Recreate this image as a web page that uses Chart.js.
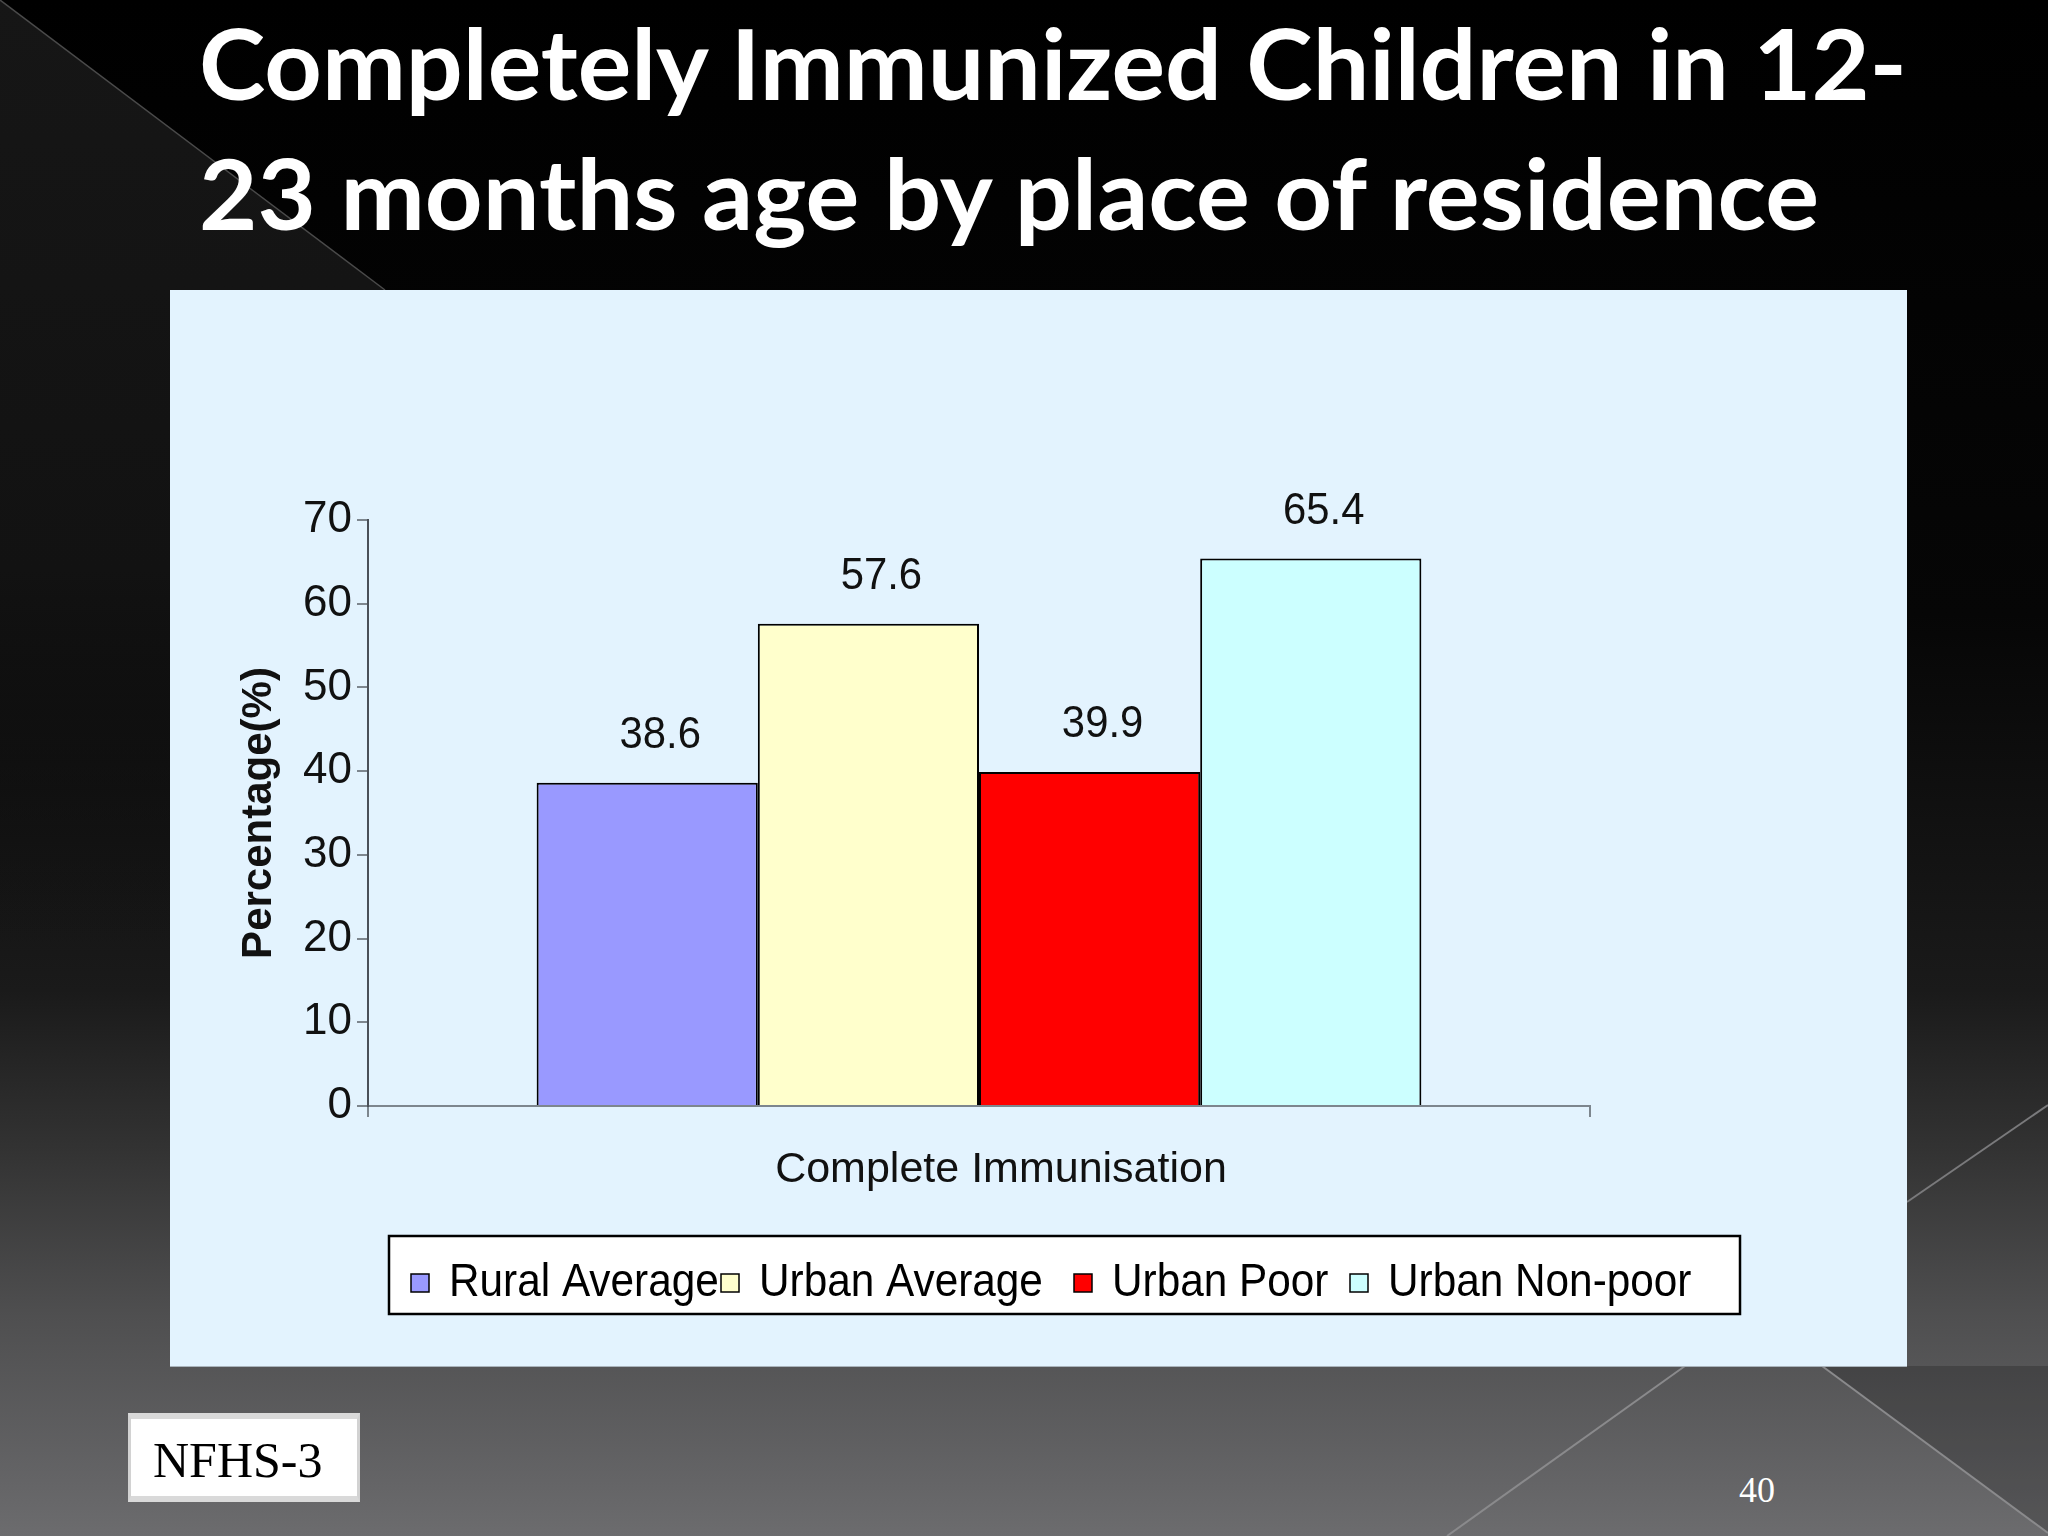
<!DOCTYPE html>
<html><head><meta charset="utf-8">
<script src="https://cdn.jsdelivr.net/npm/chart.js@4.4.0/dist/chart.umd.min.js"></script>
<style>
html,body{margin:0;padding:0;width:2048px;height:1536px;overflow:hidden;background:#000;}
#bg{position:absolute;left:0;top:0;}
.title{position:absolute;left:199px;color:#fff;font:700 98px Lato, "Open Sans", sans-serif;line-height:98px;white-space:nowrap;transform-origin:0 0;}
#panel{position:absolute;left:170px;top:290px;width:1737px;height:1076px;background:#E3F3FE;box-shadow:0 1px 0 #aab4bc;}
#chartBox{position:absolute;left:170px;top:290px;width:1737px;height:1076px;}
#srcBox{position:absolute;left:128px;top:1413px;width:232px;height:89px;box-sizing:border-box;background:#fff;border-top:6px solid #d9d9d9;border-bottom:6px solid #d9d9d9;border-left:3px solid #d2d2d2;border-right:3px solid #d2d2d2;}
#srcText{position:absolute;left:153px;top:1435px;font:50px "Liberation Serif", "DejaVu Serif", serif;line-height:50px;color:#000;white-space:nowrap;}
#pageNo{position:absolute;left:1739px;top:1472px;font:36px "Liberation Serif", serif;line-height:36px;color:#fff;}
</style>
</head>
<body>
<svg id="bg" width="2048" height="1536" xmlns="http://www.w3.org/2000/svg">
  <defs>
    <linearGradient id="base" x1="0" y1="0" x2="0" y2="1536" gradientUnits="userSpaceOnUse">
      <stop offset="0" stop-color="#000"/>
      <stop offset="0.40" stop-color="#060606"/>
      <stop offset="0.645" stop-color="#1a1a1a"/>
      <stop offset="0.75" stop-color="#333333"/>
      <stop offset="0.857" stop-color="#4f4f50"/>
      <stop offset="0.964" stop-color="#646466"/>
      <stop offset="1" stop-color="#6c6c6e"/>
    </linearGradient>
    <linearGradient id="strip" x1="0" y1="0" x2="0" y2="950" gradientUnits="userSpaceOnUse">
      <stop offset="0" stop-color="#161616" stop-opacity="1"/>
      <stop offset="0.6" stop-color="#121212" stop-opacity="1"/>
      <stop offset="1" stop-color="#121212" stop-opacity="0"/>
    </linearGradient>
  </defs>
  <rect x="0" y="0" width="2048" height="1536" fill="url(#base)"/>
  <polygon points="0,0 385,290 170,290 170,950 0,950" fill="url(#strip)"/>
  <polygon points="1822,1366 2048,1533 2048,1366" fill="#000" fill-opacity="0.2"/>
  <line x1="0" y1="0" x2="385" y2="290" stroke="#4a4a4a" stroke-width="1.5"/>
  <line x1="1685" y1="1366" x2="1447" y2="1536" stroke="#8a8a8c" stroke-width="2"/>
  <line x1="1822" y1="1366" x2="2048" y2="1533" stroke="#8a8a8c" stroke-width="2"/>
  <line x1="1907" y1="1202" x2="2048" y2="1105" stroke="#7a7a7c" stroke-width="2"/>
</svg>

<div class="title" id="t1" style="top:13px;">Completely Immunized Children in 12-</div>
<div class="title" id="t2" style="top:143px;">23 months age by place of residence</div>

<div id="panel"></div>
<div id="chartBox"><canvas id="c"></canvas></div>

<div id="srcBox"></div>
<div id="srcText">NFHS-3</div>
<div id="pageNo">40</div>

<script>
// ---- data ----
const categories = ['Complete Immunisation'];
const seriesNames = ['Rural Average', 'Urban Average', 'Urban Poor', 'Urban Non-poor'];
const ruralAverage = [38.6];
const urbanAverage = [57.6];
const urbanPoor = [39.9];
const urbanNonPoor = [65.4];
const yTicks = [0, 10, 20, 30, 40, 50, 60, 70];
const yTitle = 'Percentage(%)';

// ---- style ----
const seriesValues = [ruralAverage, urbanAverage, urbanPoor, urbanNonPoor];
const seriesColors = ['#9999FF', '#FFFFCC', '#FF0000', '#CCFFFF'];
const legendSwatchX = [241, 551, 904, 1180];

// fit title lines
[['t1', 1708], ['t2', 1620]].forEach(([id, w]) => {
  const el = document.getElementById(id);
  const nat = el.getBoundingClientRect().width;
  el.style.transform = 'scaleX(' + (w / nat) + ')';
});

Chart.defaults.font.family = '"Liberation Sans", Arial, sans-serif';

const valueLabels = {
  id: 'valueLabels',
  afterDatasetsDraw(chart) {
    const ctx = chart.ctx;
    ctx.save();
    ctx.font = '45px "Liberation Sans", Arial, sans-serif';
    ctx.fillStyle = '#111';
    ctx.textAlign = 'center';
    ctx.textBaseline = 'middle';
    chart.data.datasets.forEach((ds, i) => {
      chart.getDatasetMeta(i).data.forEach((bar, j) => {
        ctx.save();
        ctx.translate(bar.x + 13, bar.y - 47);
        ctx.scale(0.93, 1);
        ctx.fillText(ds.data[j].toFixed(1), 0, 0);
        ctx.restore();
      });
    });
    ctx.restore();
  }
};

const boxLegend = {
  id: 'boxLegend',
  afterDraw(chart) {
    const ctx = chart.ctx;
    ctx.save();
    const L = 219, T = 946, W = 1351, H = 78;
    ctx.fillStyle = '#fff';
    ctx.fillRect(L, T, W, H);
    ctx.lineWidth = 2.5;
    ctx.strokeStyle = '#000';
    ctx.strokeRect(L, T, W, H);
    const cy = T + 47;
    ctx.font = '46px "Liberation Sans", Arial, sans-serif';
    ctx.textBaseline = 'middle';
    ctx.textAlign = 'left';
    legendSwatchX.forEach((x, i) => {
      const ds = chart.data.datasets[i];
      ctx.fillStyle = ds.backgroundColor;
      ctx.fillRect(x, cy - 9, 18, 18);
      ctx.lineWidth = 1.5;
      ctx.strokeStyle = '#000';
      ctx.strokeRect(x, cy - 9, 18, 18);
      ctx.save();
      ctx.translate(x + 38, cy);
      ctx.scale(0.92, 1);
      ctx.fillStyle = '#000';
      ctx.fillText(ds.label, 0, 0);
      ctx.restore();
    });
    ctx.restore();
  }
};

new Chart(document.getElementById('c'), {
  type: 'bar',
  data: {
    labels: categories,
    datasets: seriesNames.map((n, i) => ({
      label: n,
      data: seriesValues[i],
      backgroundColor: seriesColors[i],
      borderColor: '#000',
      borderWidth: 2,
      borderSkipped: 'bottom',
      categoryPercentage: 0.724,
      barPercentage: 1
    }))
  },
  options: {
    responsive: true,
    maintainAspectRatio: false,
    animation: false,
    layout: { padding: { left: 0, top: 230, right: 317, bottom: 0 } },
    plugins: { legend: { display: false }, tooltip: { enabled: false } },
    scales: {
      x: {
        grid: { display: true, drawOnChartArea: false, drawTicks: true, tickLength: 11, color: '#7d868e', lineWidth: 2, offset: true },
        border: { color: '#7d868e', width: 2 },
        ticks: { font: { size: 43 }, color: '#111', padding: 27, labelOffset: 22 },
        afterFit(s) { s.height = 260; }
      },
      y: {
        min: yTicks[0],
        max: yTicks[yTicks.length - 1],
        ticks: { stepSize: yTicks[1] - yTicks[0], font: { size: 44 }, color: '#111', padding: 5 },
        grid: { drawOnChartArea: false, tickLength: 11, color: '#7d868e', lineWidth: 2 },
        border: { color: '#4a5058', width: 2 },
        title: { display: true, text: yTitle, font: { size: 42, weight: 'bold' }, color: '#111', padding: { top: 64, bottom: 0 } },
        afterFit(s) { s.width = 198; }
      }
    }
  },
  plugins: [valueLabels, boxLegend]
});
</script>
</body></html>
